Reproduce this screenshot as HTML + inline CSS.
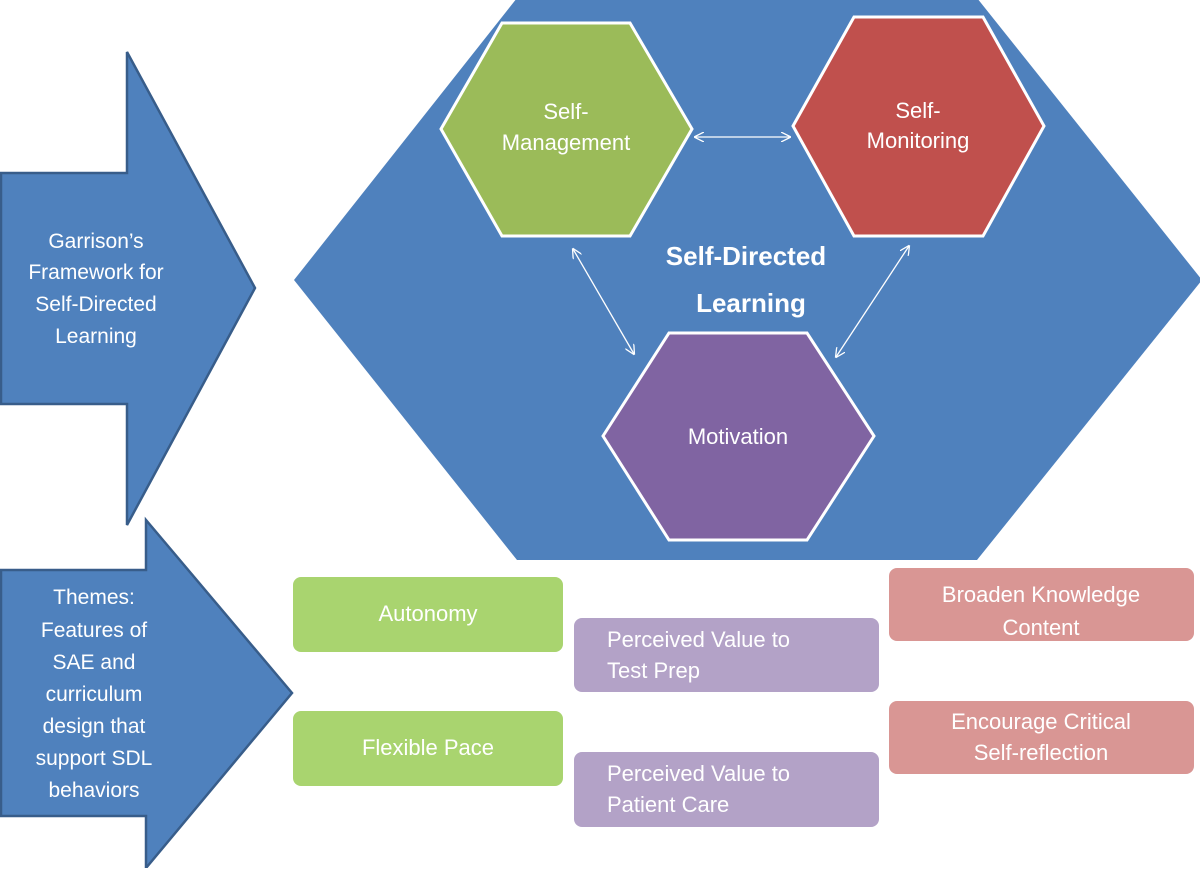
<!DOCTYPE html>
<html><head><meta charset="utf-8"><style>
html,body{margin:0;padding:0;background:#fff;}
svg text{font-family:"Liberation Sans",sans-serif;fill:#fff;}
</style></head><body>
<svg width="1200" height="868" viewBox="0 0 1200 868" xmlns="http://www.w3.org/2000/svg">
<defs>
<marker id="a" viewBox="0 0 10 10" refX="9" refY="5" markerWidth="10" markerHeight="10" orient="auto-start-reverse" markerUnits="userSpaceOnUse"><path d="M0,0 L10,5 L0,10" fill="none" stroke="#fff" stroke-width="1.3"/></marker>
</defs>
<!-- arrows -->
<polygon points="1,173 127,173 127,52 255,288 127,525 127,404 1,404" fill="#4f81bd" stroke="#385d8a" stroke-width="2.5"/>
<polygon points="1,570 146,570 146,520 292,693 146,868 146,816 1,816" fill="#4f81bd" stroke="#385d8a" stroke-width="2.5"/>
<!-- big hexagon -->
<polygon points="294,280 517,-2 977,-2 1202,280 977,560 517,560" fill="#4f81bd"/>
<!-- small hexagons -->
<polygon points="441,129 502,23 630,23 692,129 630,236 502,236" fill="#9bbb59" stroke="#fff" stroke-width="3"/>
<polygon points="793,126 854,17 983,17 1044,126 983,236 854,236" fill="#c0504d" stroke="#fff" stroke-width="3"/>
<polygon points="603,436 669,333 807,333 874,436 807,540 669,540" fill="#8064a2" stroke="#fff" stroke-width="3"/>
<!-- connectors -->
<line x1="695" y1="137" x2="790" y2="137" stroke="#fff" stroke-width="1.3" marker-start="url(#a)" marker-end="url(#a)"/>
<line x1="573" y1="249" x2="634" y2="354" stroke="#fff" stroke-width="1.3" marker-start="url(#a)" marker-end="url(#a)"/>
<line x1="909" y1="246" x2="836" y2="357" stroke="#fff" stroke-width="1.3" marker-start="url(#a)" marker-end="url(#a)"/>
<!-- texts -->
<g font-size="21" text-anchor="middle">
<text x="96" y="248">Garrison’s</text>
<text x="96" y="279">Framework for</text>
<text x="96" y="311">Self-Directed</text>
<text x="96" y="343">Learning</text>
<text x="94" y="604">Themes:</text>
<text x="94" y="637">Features of</text>
<text x="94" y="669">SAE and</text>
<text x="94" y="701">curriculum</text>
<text x="94" y="733">design that</text>
<text x="94" y="765">support SDL</text>
<text x="94" y="797">behaviors</text>
</g>
<g font-size="22" text-anchor="middle">
<text x="566" y="119">Self-</text>
<text x="566" y="150">Management</text>
<text x="918" y="118">Self-</text>
<text x="918" y="148">Monitoring</text>
<text x="738" y="444">Motivation</text>
</g>
<g font-size="26" font-weight="bold" text-anchor="middle">
<text x="746" y="265">Self-Directed</text>
<text x="751" y="312">Learning</text>
</g>
<!-- boxes -->
<rect x="293" y="577" width="270" height="75" rx="8" fill="#a9d46f"/>
<rect x="293" y="711" width="270" height="75" rx="8" fill="#a9d46f"/>
<rect x="574" y="618" width="305" height="74" rx="8" fill="#b3a2c7"/>
<rect x="574" y="752" width="305" height="75" rx="8" fill="#b3a2c7"/>
<rect x="889" y="568" width="305" height="73" rx="8" fill="#d99694"/>
<rect x="889" y="701" width="305" height="73" rx="8" fill="#d99694"/>
<g font-size="22" text-anchor="middle">
<text x="428" y="621">Autonomy</text>
<text x="428" y="755">Flexible Pace</text>
<text x="1041" y="602">Broaden  Knowledge</text>
<text x="1041" y="635">Content</text>
<text x="1041" y="729">Encourage Critical</text>
<text x="1041" y="760">Self-reflection</text>
</g>
<g font-size="22" text-anchor="start">
<text x="607" y="647">Perceived Value to</text>
<text x="607" y="678">Test Prep</text>
<text x="607" y="781">Perceived Value to</text>
<text x="607" y="812">Patient Care</text>
</g>
</svg>
</body></html>
